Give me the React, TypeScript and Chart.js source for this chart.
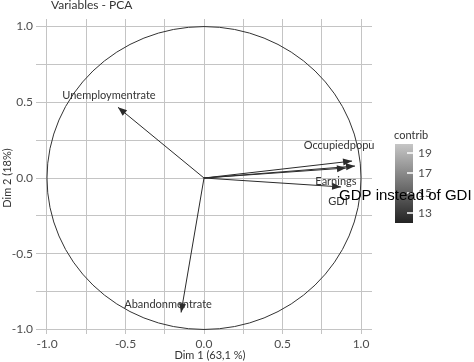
import React, { useEffect, useRef } from 'react';
import { Chart, registerables } from 'chart.js';
Chart.register(...registerables);

// ---- data ----
const varNames = ['Unemploymentrate', 'Abandonmentrate', 'Occupiedpopu', '', 'Earnings', 'GDI'];
const dim1 = [-0.548, -0.146, 0.943, 0.962, 0.904, 0.873];
const dim2 = [0.467, -0.888, 0.112, 0.079, 0.066, -0.059];
const axisTicks = [-1, -0.75, -0.5, -0.25, 0, 0.25, 0.5, 0.75, 1];
const contribTicks = [13, 15, 17, 19];
const contribRange = [12.0, 19.9];
const titleText = 'Variables - PCA';
const xTitle = 'Dim 1 (63,1 %)';
const yTitle = 'Dim 2 (18%)';
const legendTitle = 'contrib';
const overlayText = 'GDP instead of GDI';

// ---- styles ----
const labelOffsets = [[-9, -12], [-13, -8], [-13, -16], [0, 0], [-10, 13], [-3, 15]];
const FONT = 'Lato, "Noto Sans", sans-serif';
const TEXT = '#333333';
const TICK = '#4d4d4d';
const GRID = '#c4c4c4';
const ARROW = '#2b2b2b';

const pcaPlugin = {
  id: 'pca',
  beforeDatasetsDraw(chart: any) {
    const { ctx, scales } = chart;
    const x = scales.x, y = scales.y;
    const cx = x.getPixelForValue(0), cy = y.getPixelForValue(0);
    const rx = x.getPixelForValue(1) - cx;
    const ry = cy - y.getPixelForValue(1);
    ctx.save();
    ctx.beginPath();
    ctx.ellipse(cx, cy, rx, ry, 0, 0, Math.PI * 2);
    ctx.strokeStyle = '#333';
    ctx.lineWidth = 1;
    ctx.stroke();
    ctx.restore();
  },
  afterDatasetsDraw(chart: any) {
    const { ctx, scales } = chart;
    const x = scales.x, y = scales.y;
    const cx = x.getPixelForValue(0), cy = y.getPixelForValue(0);
    ctx.save();
    dim1.forEach((v, i) => {
      const tx = x.getPixelForValue(v), ty = y.getPixelForValue(dim2[i]);
      const a = Math.atan2(ty - cy, tx - cx);
      const len = 9, w = 3.5;
      const bx = tx - len * Math.cos(a), by = ty - len * Math.sin(a);
      ctx.beginPath();
      ctx.moveTo(tx, ty);
      ctx.lineTo(bx - w * Math.sin(a), by + w * Math.cos(a));
      ctx.lineTo(bx + w * Math.sin(a), by - w * Math.cos(a));
      ctx.closePath();
      ctx.fillStyle = ARROW;
      ctx.fill();
      const name = varNames[i];
      if (name) {
        ctx.font = `11px ${FONT}`;
        ctx.fillStyle = TEXT;
        ctx.textAlign = 'center';
        ctx.textBaseline = 'middle';
        ctx.fillText(name, tx + labelOffsets[i][0], ty + labelOffsets[i][1]);
      }
    });
    ctx.restore();
  },
  afterDraw(chart: any) {
    const { ctx } = chart;
    ctx.save();
    // title
    ctx.font = `12px ${FONT}`;
    ctx.fillStyle = TEXT;
    ctx.textAlign = 'left';
    ctx.textBaseline = 'middle';
    ctx.fillText(titleText, 51, 5);
    // axis titles
    ctx.font = `11px ${FONT}`;
    ctx.textAlign = 'center';
    ctx.fillText(xTitle, 210, 355);
    ctx.save();
    ctx.translate(7, 178);
    ctx.rotate(-Math.PI / 2);
    ctx.fillText(yTitle, 0, 0);
    ctx.restore();
    // colorbar
    const bx = 395, bw = 18, top = 144, bottom = 223;
    const g = ctx.createLinearGradient(0, top, 0, bottom);
    g.addColorStop(0, '#c6c6c6');
    g.addColorStop(1, '#232323');
    ctx.fillStyle = g;
    ctx.fillRect(bx, top, bw, bottom - top);
    const yOf = (v: number) => bottom - (v - contribRange[0]) / (contribRange[1] - contribRange[0]) * (bottom - top);
    ctx.strokeStyle = '#ffffff';
    ctx.lineWidth = 1.5;
    ctx.font = `12px ${FONT}`;
    contribTicks.forEach(t => {
      const py = yOf(t);
      ctx.beginPath();
      ctx.moveTo(bx + bw - 6, py);
      ctx.lineTo(bx + bw, py);
      ctx.stroke();
      ctx.fillStyle = TICK;
      ctx.textAlign = 'left';
      ctx.fillText(String(t), 418, py);
    });
    ctx.font = `11px ${FONT}`;
    ctx.fillStyle = TEXT;
    ctx.textAlign = 'left';
    ctx.fillText(legendTitle, 394, 135);
    // overlay text
    ctx.font = '15px "Liberation Sans", Arial, sans-serif';
    ctx.fillStyle = '#000000';
    ctx.textBaseline = 'alphabetic';
    ctx.fillText(overlayText, 339, 200);
    ctx.restore();
  },
};

const fmt = (v: any) => {
  const n = Number(v);
  return Math.abs(n * 2 - Math.round(n * 2)) < 1e-9 ? n.toFixed(1) : '';
};

export default function App() {
  const ref = useRef<HTMLCanvasElement>(null);
  useEffect(() => {
    if (!ref.current) return;
    const chart = new Chart(ref.current, {
      type: 'scatter',
      data: {
        datasets: varNames.map((n, i) => ({
          label: n || 'var' + i,
          data: [{ x: 0, y: 0 }, { x: dim1[i], y: dim2[i] }],
          showLine: true,
          borderColor: ARROW,
          borderWidth: 1,
          pointRadius: 0,
          pointHoverRadius: 0,
        })),
      },
      options: {
        animation: false,
        responsive: false,
        events: [],
        layout: { padding: { top: 19, right: 102, left: 0, bottom: 0 } },
        plugins: { legend: { display: false }, tooltip: { enabled: false }, title: { display: false } },
        scales: {
          x: {
            type: 'linear',
            min: -1.07,
            max: 1.07,
            afterBuildTicks: (s: any) => { s.ticks = axisTicks.map(v => ({ value: v })); },
            afterFit: (s: any) => { s.height = 28; },
            grid: { color: GRID, drawTicks: false },
            border: { display: false },
            ticks: { padding: 3, autoSkip: false, maxRotation: 0, color: TICK, font: { family: FONT, size: 12 }, callback: fmt },
          },
          y: {
            type: 'linear',
            min: -1.03,
            max: 1.05,
            afterBuildTicks: (s: any) => { s.ticks = axisTicks.map(v => ({ value: v })); },
            afterFit: (s: any) => { s.width = 36; },
            grid: { color: GRID, drawTicks: false },
            border: { display: false },
            ticks: { padding: 3, autoSkip: false, color: TICK, font: { family: FONT, size: 12 }, callback: fmt },
          },
        },
      },
      plugins: [pcaPlugin],
    } as any);
    return () => chart.destroy();
  }, []);
  return (
    <div style={{ position: 'absolute', left: 0, top: 0, width: 474, height: 362, background: '#fff' }}>
      <canvas ref={ref} width={474} height={362} style={{ display: 'block' }} />
    </div>
  );
}
